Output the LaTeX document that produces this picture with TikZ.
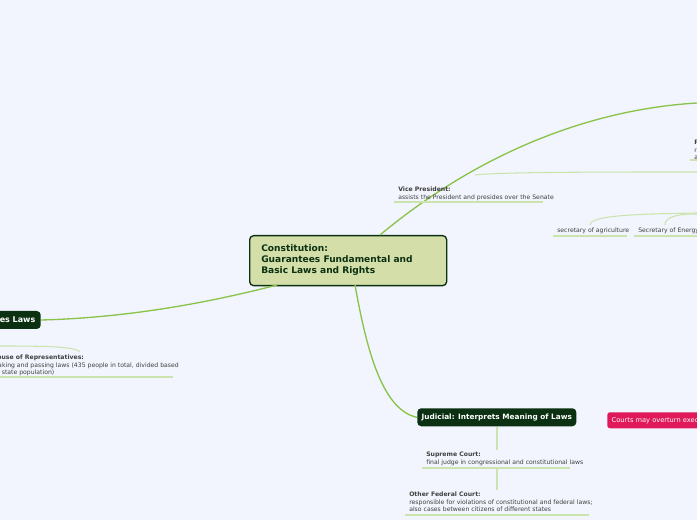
\documentclass[tikz,border=0pt]{standalone}
\usepackage{fontspec}
\setmainfont{DejaVu Sans}
\begin{document}
\begin{tikzpicture}[x=0.75pt,y=-0.75pt,
  conn/.style={draw=lgreen, line width=1pt},
  faint/.style={draw=lgreen!45!white, line width=0.8pt},
  small/.style={anchor=north west, inner sep=0, font=\fontsize{4.6}{5.6}\selectfont, text=black!75, align=left},
  uline/.style={draw=lgreen!45!white, line width=0.8pt}]
\definecolor{bg}{HTML}{F2F5FD}
\definecolor{dg}{HTML}{0B3012}
\definecolor{cfill}{HTML}{D4DEA8}
\definecolor{pink}{HTML}{E0195A}
\definecolor{lgreen}{HTML}{8BC34A}
\fill[bg] (0,0) rectangle (697,520);
\useasboundingbox (0,0) rectangle (697,520);
\begin{scope}
\clip (0,0) rectangle (697,520);
% central
\node[draw=dg, line width=1pt, fill=cfill, rounded corners=3pt, minimum width=197*0.75pt, minimum height=50*0.75pt, anchor=north west] (c) at (249,235) {};
\node[anchor=north west, inner sep=0, font=\fontsize{6.8}{8.2}\selectfont\bfseries, text=dg, align=left] (ct) at (261,244) {Constitution:\\Guarantees Fundamental and\\Basic Laws and Rights};
% legislative
\node[fill=dg, rounded corners=3pt, minimum height=18*0.75pt, anchor=east, font=\fontsize{6}{7}\selectfont\bfseries, text=white, inner xsep=4pt] (leg) at (41,320) {Legislative: Makes Laws};
\draw[conn] (277,285) .. controls (200,305) and (120,318) .. (leg.east);
\coordinate (hl) at (-10,346);
\coordinate (hr) at (80,352);
\draw[faint] (hl) .. controls (40,346) and (75,346) .. (hr);
\node[small] (house) at (-8,355) {\textbf{House of Representatives:}\\making and passing laws (435 people in total, divided based\\on state population)};
\draw[uline] (-10,377) -- (173,377);
% vice president
\draw[conn] (380,235) .. controls (470,160) and (580,110) .. (697,103);
\draw[faint] (475,175) .. controls (500,172) and (600,172) .. (697,172);
\node[small] (vp) at (398,187) {\textbf{Vice President:}\\assists the President and presides over the Senate};
\draw[uline] (394,202) -- (543,202);
\node[small] (pres) at (694,140) {\textbf{P}\\r\\a};
\draw[uline] (690,160) -- (697,160);
% secretaries
\node[small] (agr) at (557,228) {secretary of agriculture};
\draw[uline] (553,236) -- (627,236);
\node[small] (en) at (638,228) {Secretary of Energy};
\draw[uline] (634,236) -- (697,236);
\draw[faint] (590,225) .. controls (590,215) and (640,214) .. (697,213);
\draw[faint] (665,225) .. controls (665,216) and (680,214) .. (697,214);
% judicial
\node[fill=dg, rounded corners=3pt, minimum width=159*0.75pt, minimum height=18*0.75pt, anchor=north west, font=\fontsize{5.5}{7}\selectfont\bfseries, text=white] (jud) at (417,408) {Judicial: Interprets Meaning of Laws};
\draw[conn] (355,285) .. controls (365,340) and (380,410) .. (jud.west);
\node[fill=pink, rounded corners=2pt, minimum height=16*0.75pt, anchor=north west, font=\fontsize{5}{6}\selectfont, text=white] (courts) at (607,412) {Courts may overturn executive actions};
\node[small] (sc) at (426,452) {\textbf{Supreme Court:}\\final judge in congressional and constitutional laws};
\draw[uline] (422,468) -- (570,468);
\draw[faint] (497,427) -- (497,450);
\draw[faint] (497,468) -- (497,490);
\node[small] (ofc) at (409,492) {\textbf{Other Federal Court:}\\responsible for violations of constitutional and federal laws;\\also cases between citizens of different states};
\draw[uline] (405,515) -- (589,515);
\end{scope}
\end{tikzpicture}
\end{document}
